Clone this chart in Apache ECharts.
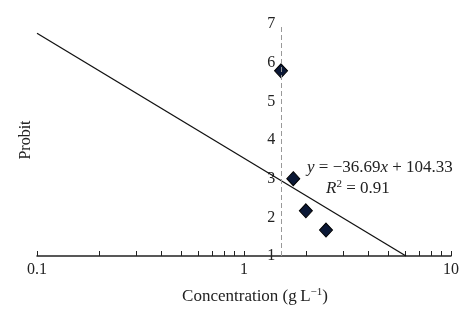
<!DOCTYPE html>
<html><head><meta charset="utf-8">
<script src="https://cdn.jsdelivr.net/npm/echarts@6/dist/echarts.min.js"></script>
<style>html,body{margin:0;padding:0;background:#fff}#c{width:474px;height:322px}</style>
</head><body><div id="c"></div>
<script>
// Data
const concentration = [1.51, 1.73, 1.99, 2.49];
const probit = [5.79, 3.0, 2.17, 1.67];
const fitX = [0.1, 6.06];
const fitY = [6.76, 1.0];
const xTickValues = [0.1,0.2,0.3,0.4,0.5,0.6,0.7,0.8,0.9,1,2,3,4,5,6,7,8,9,10];
const xLabelValues = [0.1, 1, 10];
const yMin = 1, yMax = 7, yStep = 1;
const yAxisCrossX = 1.51;
const equationText = ['{i|y} = \u221236.69{i|x} + 104.33', '{i|R}{sup|2} = 0.91'];

const FONT = '"Liberation Serif", "DejaVu Serif", serif';
const TXT = '#222';
const chart = echarts.init(document.getElementById('c'), null, {renderer: 'canvas'});
const GRID = {left: 37, right: 23, top: 24, bottom: 66};

const option = {
  animation: false,
  backgroundColor: '#fff',
  grid: GRID,
  xAxis: {
    type: 'log', logBase: 10, min: 0.1, max: 10,
    name: 'Concentration (g\u2009L{sup|\u22121})',
    nameLocation: 'middle', nameGap: 31,
    nameTextStyle: {fontFamily: FONT, fontSize: 17, color: TXT, padding: [0, 0, 0, 22],
      rich: {sup: {fontFamily: FONT, fontSize: 11, verticalAlign: 'top', padding: [0,0,9,0], color: TXT}}},
    axisLine: {show: true, lineStyle: {color: '#222', width: 1.5}},
    axisTick: {show: true, inside: true, length: 5, lineStyle: {color: '#222', width: 1}, customValues: xTickValues},
    axisLabel: {fontFamily: FONT, fontSize: 16, color: TXT, margin: 6, customValues: xLabelValues,
      formatter: v => String(+v.toPrecision(3))},
    splitLine: {show: false},
    minorTick: {show: false}
  },
  yAxis: {
    type: 'value', min: yMin, max: yMax, interval: yStep,
    name: 'Probit', nameLocation: 'middle', nameRotate: 90,
    nameTextStyle: {fontFamily: FONT, fontSize: 16, color: TXT},
    axisLine: {show: false},
    axisTick: {show: false},
    axisLabel: {fontFamily: FONT, fontSize: 16, color: TXT, margin: 14},
    splitLine: {show: false}
  },
  series: [
    {
      type: 'line',
      data: fitX.map((x, i) => [x, fitY[i]]),
      symbol: 'none',
      lineStyle: {color: '#111', width: 1.3},
      z: 2
    },
    {
      type: 'scatter',
      data: concentration.map((x, i) => [x, probit[i]]),
      symbol: 'diamond', symbolSize: [13, 14],
      itemStyle: {color: '#0b1836', borderColor: '#000', borderWidth: 1, opacity: 1},
      markLine: {
        silent: true, symbol: 'none', label: {show: false},
        lineStyle: {color: '#999', width: 1, type: [5, 3]},
        data: [[{coord: [yAxisCrossX, yMin]}, {coord: [yAxisCrossX, yMax]}]]
      },
      z: 3
    }
  ],
  graphic: [
    {type: 'text', left: 307, top: 159, style: {text: equationText[0], fontFamily: FONT, fontSize: 17, fill: TXT,
      rich: {i: {fontFamily: FONT, fontStyle: 'italic', fontSize: 17, fill: TXT}}}},
    {type: 'text', left: 326, top: 179, style: {text: equationText[1], fontFamily: FONT, fontSize: 17, fill: TXT,
      rich: {i: {fontFamily: FONT, fontStyle: 'italic', fontSize: 17, fill: TXT},
             sup: {fontFamily: FONT, fontSize: 11, verticalAlign: 'top', padding: [0,0,9,0], fill: TXT}}}}
  ]
};
chart.setOption(option);
// Place the y-axis labels beside the crossing line at yAxisCrossX
const crossPx = chart.convertToPixel({xAxisIndex: 0}, yAxisCrossX);
const off = -(crossPx - GRID.left);
chart.setOption({yAxis: {offset: off, nameGap: -off + 3}});
</script></body></html>
